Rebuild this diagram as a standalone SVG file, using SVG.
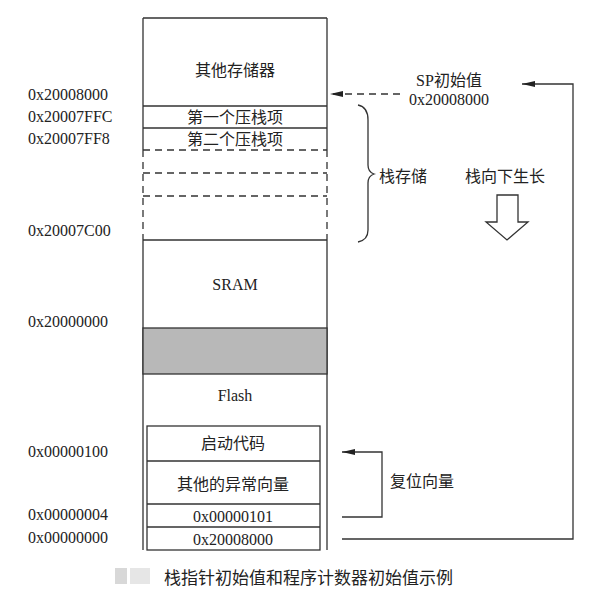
<svg xmlns="http://www.w3.org/2000/svg" width="605" height="605" viewBox="0 0 605 605">
<style>
.t{font-family:"Liberation Serif","Noto Sans CJK SC",serif;font-size:16px;fill:#222}
.c{font-family:"Noto Sans CJK SC",sans-serif;font-size:16px;fill:#222}
.s{stroke:#333;stroke-width:1.3;fill:none}
.d{stroke:#333;stroke-width:1.3;fill:none;stroke-dasharray:7,5}
</style>
<defs><marker id="a" markerWidth="14" markerHeight="8" refX="13" refY="4" orient="auto" markerUnits="userSpaceOnUse"><path d="M0,1 L13,4 L0,7Z" fill="#222"/></marker></defs>
<rect width="605" height="605" fill="#fff"/>
<g id="memory">
<path class="s" d="M143,18 V106 M327,18 V150 M143,18 H327 M143,106 H327 M143,128 H327 M143,106 V150"/>
<path class="d" d="M143,150 H327 M143,173 H327 M143,196 H327 M143,150 V240 M327,150 V240"/>
<path class="s" d="M143,240 H327 M143,240 V550 M327,240 V550"/>
<rect x="143" y="328" width="184" height="46" fill="#b8b8b8" stroke="#333" stroke-width="1.3"/>
<rect x="147" y="426" width="173" height="124" class="s"/>
<path class="s" d="M147,461 H320 M147,504 H320 M147,527 H320"/>
<text class="c" x="235" y="76" text-anchor="middle">其他存储器</text>
<text class="c" x="235" y="123" text-anchor="middle">第一个压栈项</text>
<text class="c" x="235" y="145" text-anchor="middle">第二个压栈项</text>
<text class="t" x="235" y="290" text-anchor="middle">SRAM</text>
<text class="t" x="235" y="401" text-anchor="middle">Flash</text>
<text class="c" x="233" y="449" text-anchor="middle">启动代码</text>
<text class="c" x="233" y="490" text-anchor="middle">其他的异常向量</text>
<text class="t" x="233" y="522" text-anchor="middle">0x00000101</text>
<text class="t" x="233" y="545" text-anchor="middle">0x20008000</text>
</g>
<g id="addresses">
<text class="t" x="28" y="100">0x20008000</text>
<text class="t" x="28" y="122">0x20007FFC</text>
<text class="t" x="28" y="144">0x20007FF8</text>
<text class="t" x="28" y="236">0x20007C00</text>
<text class="t" x="28" y="327">0x20000000</text>
<text class="t" x="28" y="457">0x00000100</text>
<text class="t" x="28" y="520">0x00000004</text>
<text class="t" x="28" y="543">0x00000000</text>
</g>
<g id="stack-label">
<path class="s" d="M358,105 Q368,107 368,120 V165 Q368,172 374,174 Q368,176 368,183 V230 Q368,240 358,242"/>
<text class="c" x="379" y="182">栈存储</text>
<text class="c" x="465" y="182">栈向下生长</text>
<path class="s" d="M497,195 H518 V222 H528 L507,240 L486,222 H497Z"/>
</g>
<g id="sp-label">
<text class="t" x="449" y="86" text-anchor="middle"><tspan>SP</tspan><tspan class="c">初始值</tspan></text>
<text class="t" x="449" y="105" text-anchor="middle">0x20008000</text>
</g>
<g id="reset-label"><text class="c" x="390" y="487">复位向量</text></g>
<g id="connectors">
<path class="d" d="M400,94 H330" marker-end="url(#a)"/>
<path class="s" d="M342,539 H573 V84 H522" marker-end="url(#a)"/>
<path class="s" d="M342,517 H382 V452 H342" marker-end="url(#a)"/>
</g>
<g id="caption">
<rect x="115" y="568" width="12" height="16" fill="#d8d8d8"/>
<rect x="130" y="568" width="20" height="16" fill="#e6e6e6"/>
<text class="c" x="164" y="584" style="font-size:17px">栈指针初始值和程序计数器初始值示例</text>
</g>
</svg>
